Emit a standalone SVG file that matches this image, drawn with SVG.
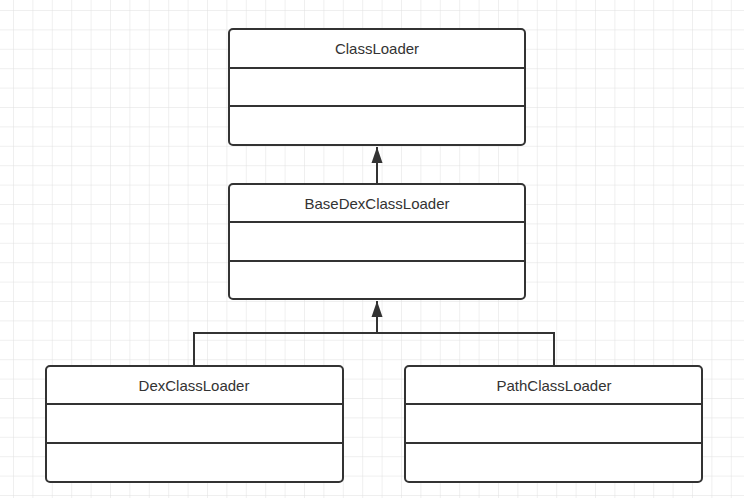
<svg xmlns="http://www.w3.org/2000/svg" width="744" height="498" viewBox="0 0 744 498">
<defs>
<pattern id="g" x="13" y="10" width="19.4" height="19.4" patternUnits="userSpaceOnUse">
<path d="M0 0H19.4M0 0V19.4" fill="none" stroke="#e0e0e0" stroke-width="1"/>
</pattern>
<marker id="a" markerWidth="18" markerHeight="12" refX="17" refY="6" orient="auto" markerUnits="userSpaceOnUse" viewBox="0 0 18 12">
<path d="M17 6L1 0.5V11.5Z" fill="#333"/>
</marker>
</defs>
<style>
.b{fill:#fff;stroke:#333;stroke-width:2}
.l{stroke:#333;stroke-width:2;fill:none}
text{font-family:"Helvetica","Liberation Sans",Arial,sans-serif;font-size:15px;fill:#333;text-anchor:middle}
</style>
<rect width="744" height="498" fill="#fff"/>
<rect width="744" height="498" fill="url(#g)"/>
<g id="connectors">
<path class="l" d="M377 184V147" marker-end="url(#a)"/>
<path class="l" d="M194 366V333H554V366M377 333V301" marker-end="url(#a)"/>
</g>
<g id="ClassLoader">
<rect class="b" x="229" y="29" width="296" height="116" rx="4"/>
<path class="l" d="M229 68H525M229 106H525"/>
<text x="377" y="54">ClassLoader</text>
</g>
<g id="BaseDexClassLoader">
<rect class="b" x="229" y="184" width="296" height="115" rx="4"/>
<path class="l" d="M229 222H525M229 261H525"/>
<text x="377" y="209">BaseDexClassLoader</text>
</g>
<g id="DexClassLoader">
<rect class="b" x="46" y="366" width="297" height="116" rx="4"/>
<path class="l" d="M46 404H343M46 443H343"/>
<text x="194" y="391">DexClassLoader</text>
</g>
<g id="PathClassLoader">
<rect class="b" x="405" y="366" width="297" height="116" rx="4"/>
<path class="l" d="M405 404H702M405 443H702"/>
<text x="554" y="391">PathClassLoader</text>
</g>
</svg>
